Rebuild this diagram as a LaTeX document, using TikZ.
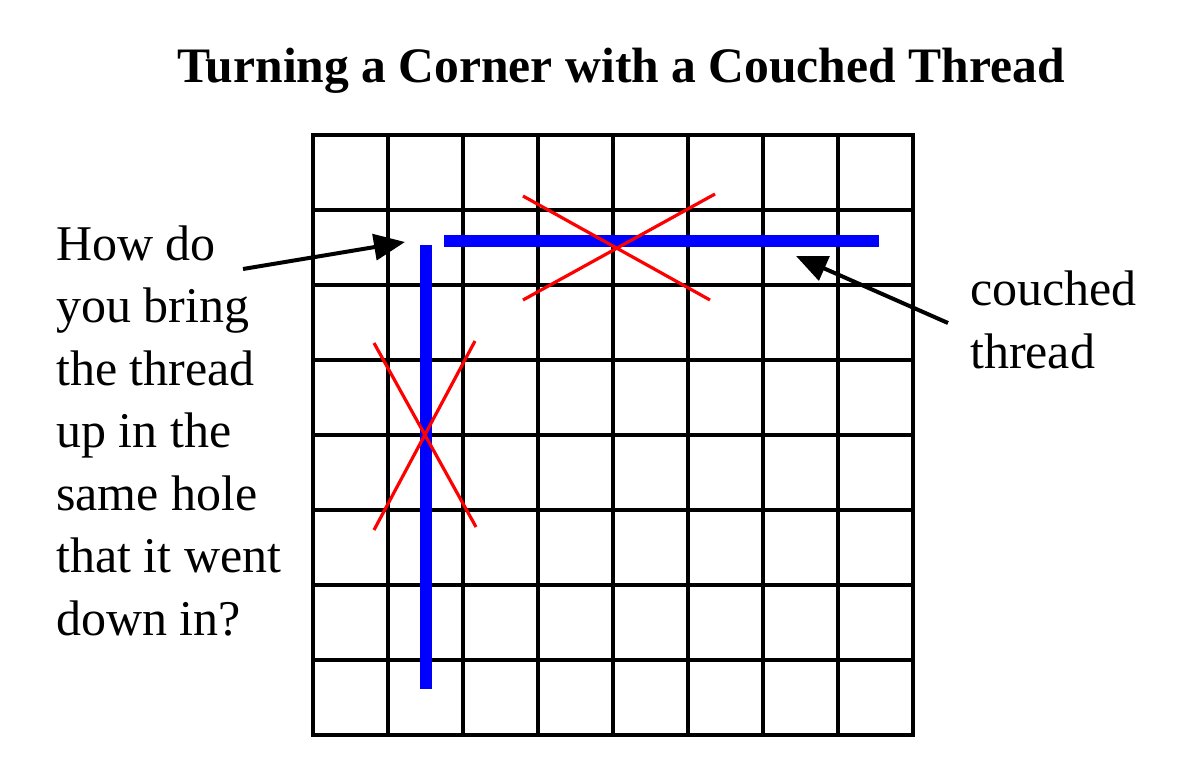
\documentclass[tikz,border=0pt]{standalone}
\usepackage{fontspec}
\setmainfont{Liberation Serif}
\usetikzlibrary{arrows.meta}
\begin{document}
\begin{tikzpicture}[x=1pt,y=-1pt,
  gridline/.style={line width=3.5pt,black,line cap=rect},
  thread/.style={line width=12pt,blue!100},
  cross/.style={line width=3.2pt,red},
  pointer/.style={line width=4pt,-{Triangle[length=31pt,width=26pt]}},
  txt/.style={inner sep=0pt,anchor=base west,align=left,font=\fontsize{50}{62.5}\selectfont},
]
\useasboundingbox (0,0) rectangle (1193,772);
% title
\node[inner sep=0pt,anchor=base,font=\fontsize{49.6}{55}\selectfont\bfseries] (title) at (621,82) {Turning a Corner with a Couched Thread};
% grid
\foreach \i in {0,...,8} {
  \draw[gridline] (313+75*\i,135) -- (313+75*\i,735);
  \draw[gridline] (313,135+75*\i) -- (913,135+75*\i);
}
% threads
\draw[thread] (444,241) -- (879,241);
\draw[thread] (426,245) -- (426,689);
% crosses
\draw[cross] (523,196) -- (710,300);
\draw[cross] (523,300) -- (715,194);
\draw[cross] (374,343) -- (476,527);
\draw[cross] (475,341) -- (374,530);
% texts (base anchor = baseline of last line)
\node[txt] (question) at (56,635) {How do\\you bring\\the thread\\up in the\\same hole\\that it went\\down in?};
\node[txt] (label) at (970,368) {couched\\thread};
% arrows
\coordinate (qa) at (243,269);
\coordinate (qb) at (405,242);
\coordinate (la) at (948,323);
\coordinate (lb) at (796,256);
\draw[pointer] (qa) -- (qb);
\draw[pointer] (la) -- (lb);
\end{tikzpicture}
\end{document}
